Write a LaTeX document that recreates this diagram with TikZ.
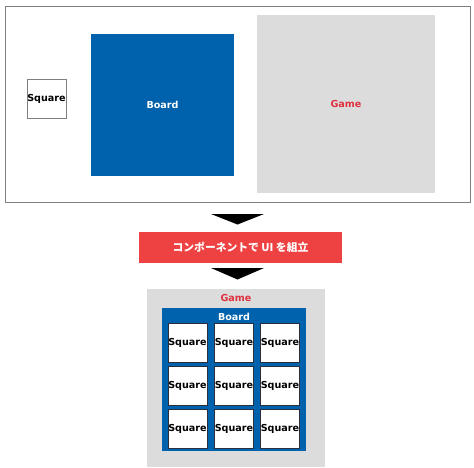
\documentclass[tikz,border=0pt]{standalone}
\usepackage{fontspec}
\setmainfont{DejaVu Sans}
\newfontfamily\jpfont{Noto Sans CJK JP}
\usetikzlibrary{positioning}
\definecolor{boardblue}{HTML}{0062AD}
\definecolor{gamegray}{HTML}{DCDCDC}
\definecolor{gamered}{HTML}{E0313F}
\definecolor{labelred}{HTML}{EE4242}
\definecolor{framegray}{HTML}{7F7F7F}
\definecolor{squareline}{HTML}{2A2F3F}

\begin{document}
\begin{tikzpicture}[x=1pt,y=-1pt,
	every node/.style={font=\bfseries\fontsize{9.6}{11}\selectfont, inner sep=0pt, outer sep=0pt},
	square/.style={draw=squareline, line width=0.8pt, fill=white, minimum size=39pt},
	board/.style={fill=boardblue, text=white},
	game/.style={fill=gamegray, text=gamered, minimum size=178pt},
	arrowhead/.style={fill=black}]
	\useasboundingbox (0,0) rectangle (474,467);
	% components
	\node[draw=framegray, line width=1pt, minimum width=465pt, minimum height=196pt] (frame) at (237.5,104) {};
	\node[square, draw=framegray] (sq0) at (46.5,98.5) {Square};
	\node[board, minimum width=143pt, minimum height=142pt] (board0) at (162.5,105) {Board};
	\node[game] (game0) at (346,104) {Game};
	
	\fill[arrowhead] (211,214) -- (264,214) -- (237.5,224.5) -- cycle;
	\node[fill=labelred, text=white, minimum width=203pt, minimum height=31pt, font=\jpfont\bfseries\fontsize{10.8}{13}\selectfont] (step) at (240.5,247.5) {コンポーネントで UI を組立};
	\fill[arrowhead] (211,268) -- (264,268) -- (237.5,279.5) -- cycle;
	
	% assembled
	\node[game] (game) at (236,378) {};
	\node[text=gamered] (gametitle) at (236,298) {Game};
	\node[board, minimum width=144pt, minimum height=143pt] (board) at (234,379.5) {};
	\node[text=white] (boardtitle) at (234,317) {Board};
	\foreach \r/\y in {1/342.5, 2/385.5, 3/428.5}
	\foreach \c/\x in {1/187.5, 2/234, 3/280}
	\node[square] (sq-\r-\c) at (\x,\y) {Square};
\end{tikzpicture}
\end{document}
